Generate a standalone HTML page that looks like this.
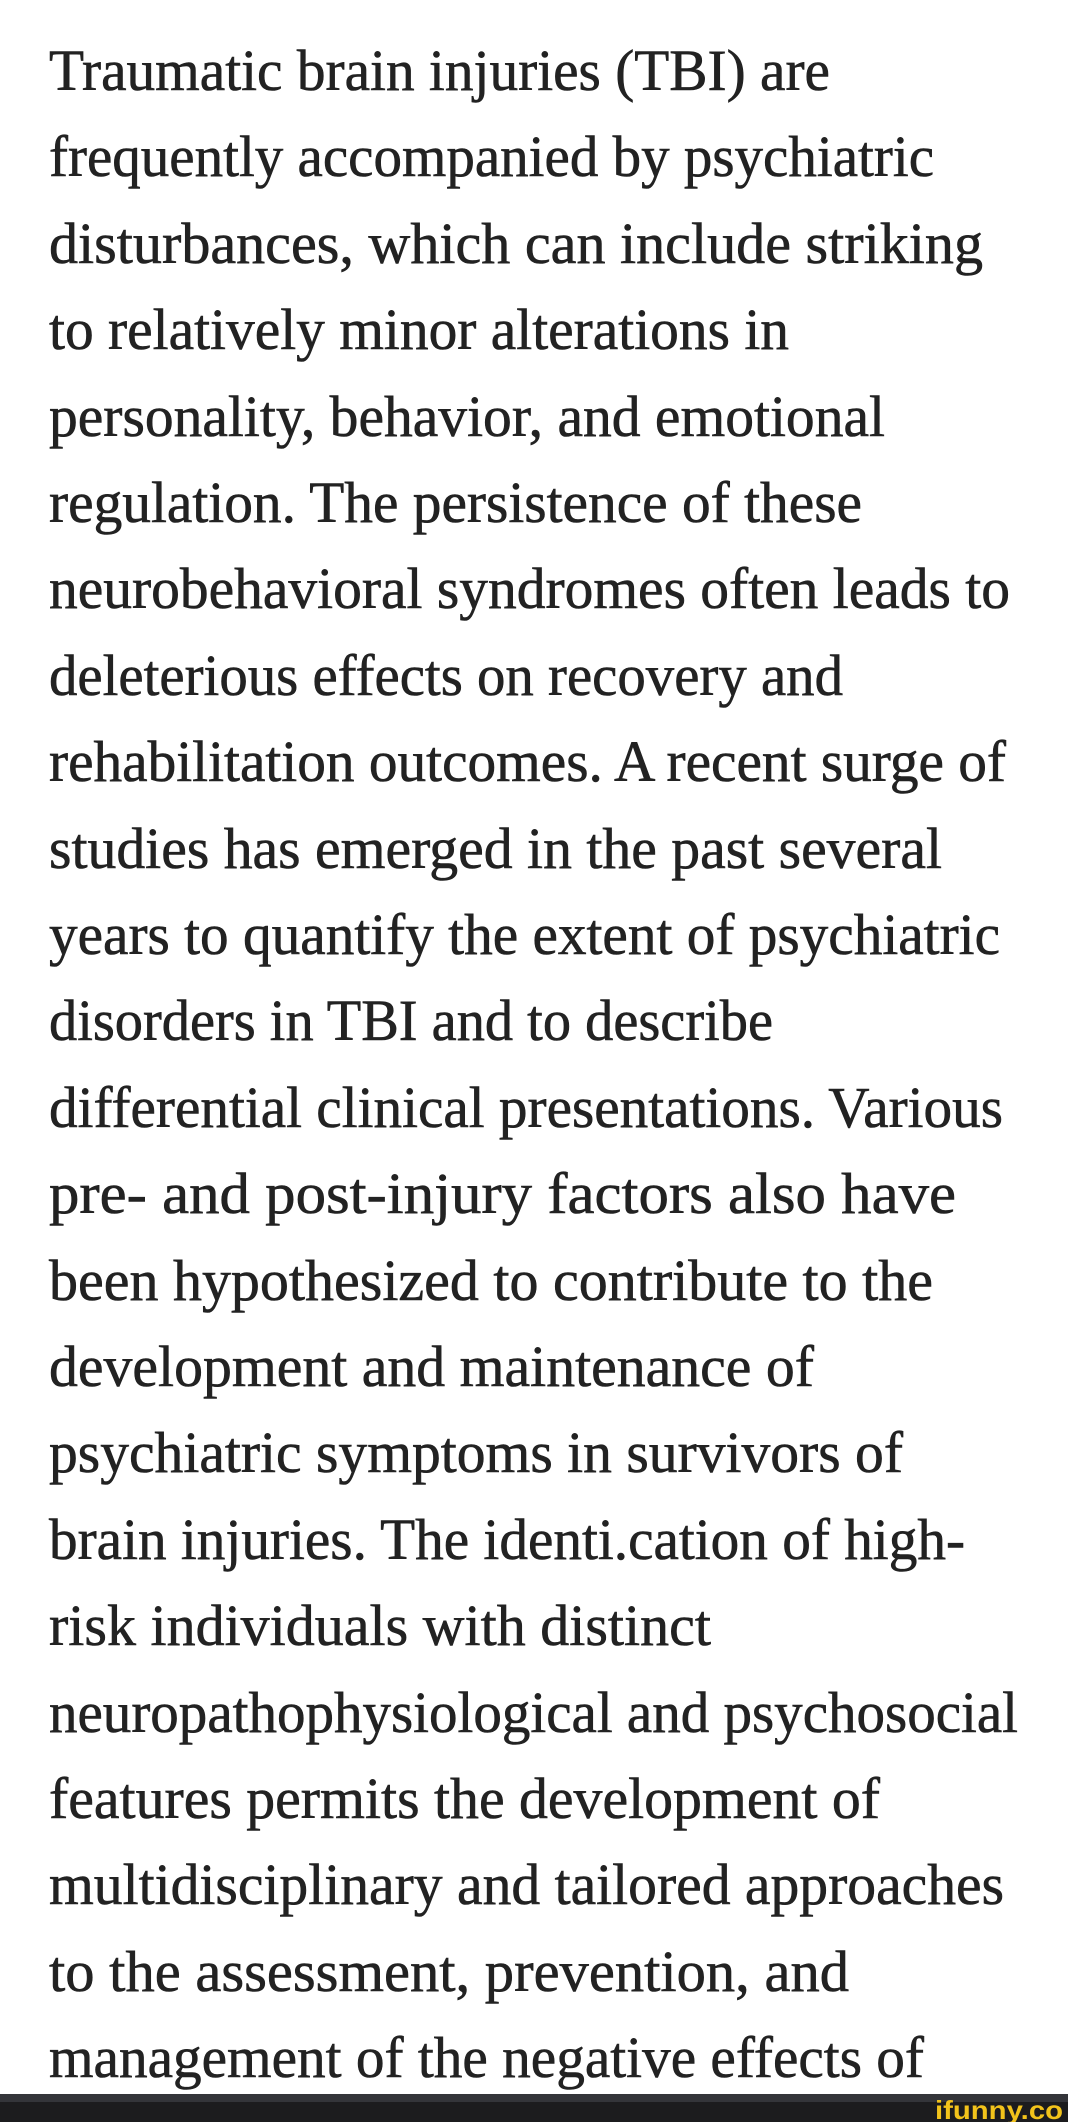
<!DOCTYPE html>
<html><head><meta charset="utf-8"><style>
html,body{margin:0;padding:0;background:#fff;}
body{width:1068px;height:2122px;position:relative;overflow:hidden;}
svg{position:absolute;left:0;top:0;}
</style></head><body>
<svg width="1068" height="2122" xmlns="http://www.w3.org/2000/svg">
<g font-family="Liberation Serif, serif" font-size="58" fill="#222" stroke="#222" stroke-width="0.6">
<text x="49" y="90" textLength="781" lengthAdjust="spacingAndGlyphs">Traumatic brain injuries (TBI) are</text>
<text x="49" y="176" textLength="885" lengthAdjust="spacingAndGlyphs">frequently accompanied by psychiatric</text>
<text x="49" y="263" textLength="934" lengthAdjust="spacingAndGlyphs">disturbances, which can include striking</text>
<text x="49" y="349" textLength="740" lengthAdjust="spacingAndGlyphs">to relatively minor alterations in</text>
<text x="49" y="436" textLength="836" lengthAdjust="spacingAndGlyphs">personality, behavior, and emotional</text>
<text x="49" y="522" textLength="813" lengthAdjust="spacingAndGlyphs">regulation. The persistence of these</text>
<text x="49" y="608" textLength="961" lengthAdjust="spacingAndGlyphs">neurobehavioral syndromes often leads to</text>
<text x="49" y="695" textLength="794" lengthAdjust="spacingAndGlyphs">deleterious effects on recovery and</text>
<text x="49" y="781" textLength="957" lengthAdjust="spacingAndGlyphs">rehabilitation outcomes. A recent surge of</text>
<text x="49" y="868" textLength="893" lengthAdjust="spacingAndGlyphs">studies has emerged in the past several</text>
<text x="49" y="954" textLength="951" lengthAdjust="spacingAndGlyphs">years to quantify the extent of psychiatric</text>
<text x="49" y="1040" textLength="724" lengthAdjust="spacingAndGlyphs">disorders in TBI and to describe</text>
<text x="49" y="1127" textLength="954" lengthAdjust="spacingAndGlyphs">differential clinical presentations. Various</text>
<text x="49" y="1213" textLength="907" lengthAdjust="spacingAndGlyphs">pre- and post-injury factors also have</text>
<text x="49" y="1300" textLength="884" lengthAdjust="spacingAndGlyphs">been hypothesized to contribute to the</text>
<text x="49" y="1386" textLength="765" lengthAdjust="spacingAndGlyphs">development and maintenance of</text>
<text x="49" y="1472" textLength="854" lengthAdjust="spacingAndGlyphs">psychiatric symptoms in survivors of</text>
<text x="49" y="1559" textLength="916" lengthAdjust="spacingAndGlyphs">brain injuries. The identi.cation of high-</text>
<text x="49" y="1645" textLength="662" lengthAdjust="spacingAndGlyphs">risk individuals with distinct</text>
<text x="49" y="1732" textLength="969" lengthAdjust="spacingAndGlyphs">neuropathophysiological and psychosocial</text>
<text x="49" y="1818" textLength="831" lengthAdjust="spacingAndGlyphs">features permits the development of</text>
<text x="49" y="1904" textLength="955" lengthAdjust="spacingAndGlyphs">multidisciplinary and tailored approaches</text>
<text x="49" y="1991" textLength="800" lengthAdjust="spacingAndGlyphs">to the assessment, prevention, and</text>
<text x="49" y="2077" textLength="875" lengthAdjust="spacingAndGlyphs">management of the negative effects of</text>
</g>
<rect x="0" y="2094" width="1068" height="8" fill="#34353a"/>
<rect x="0" y="2102" width="1068" height="20" fill="#1c1c1e"/>
<text x="935" y="2119" font-family="Liberation Sans, sans-serif" font-weight="bold" font-size="26" fill="#f2c31b" textLength="128" lengthAdjust="spacingAndGlyphs">ifunny.co</text>
</svg>
</body></html>
